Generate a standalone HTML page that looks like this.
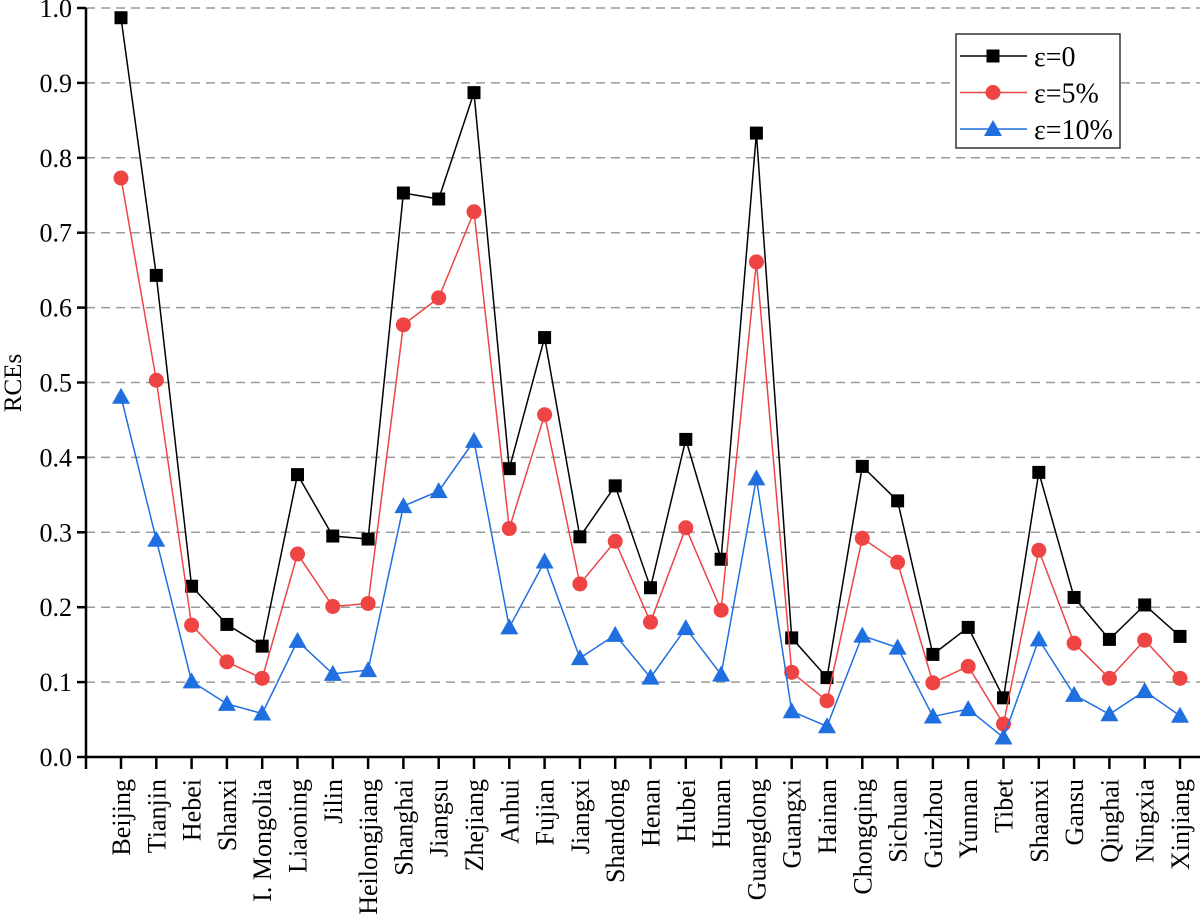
<!DOCTYPE html>
<html><head><meta charset="utf-8"><style>body{margin:0;background:#fff}svg{display:block;font-family:"Liberation Serif","Times New Roman",serif}</style></head>
<body>
<svg id="c" width="1200" height="915"></svg>
<script>
const categories=["Beijing","Tianjin","Hebei","Shanxi","I. Mongolia","Liaoning","Jilin","Heilongjiang","Shanghai","Jiangsu","Zhejiang","Anhui","Fujian","Jiangxi","Shandong","Henan","Hubei","Hunan","Guangdong","Guangxi","Hainan","Chongqing","Sichuan","Guizhou","Yunnan","Tibet","Shaanxi","Gansu","Qinghai","Ningxia","Xinjiang"];
const eps0=[0.987,0.643,0.228,0.177,0.148,0.377,0.295,0.291,0.753,0.745,0.887,0.385,0.560,0.294,0.362,0.226,0.424,0.264,0.833,0.159,0.106,0.388,0.342,0.137,0.173,0.079,0.380,0.213,0.157,0.203,0.161];
const eps5=[0.773,0.503,0.176,0.127,0.105,0.271,0.201,0.205,0.577,0.613,0.728,0.305,0.457,0.231,0.288,0.180,0.306,0.196,0.661,0.113,0.075,0.292,0.260,0.099,0.121,0.044,0.276,0.152,0.105,0.156,0.105];
const eps10=[0.481,0.290,0.101,0.071,0.058,0.155,0.111,0.116,0.335,0.355,0.422,0.173,0.261,0.132,0.163,0.106,0.172,0.110,0.372,0.061,0.041,0.162,0.146,0.054,0.064,0.026,0.157,0.083,0.057,0.088,0.055];
const yTicks=[0,0.1,0.2,0.3,0.4,0.5,0.6,0.7,0.8,0.9,1.0];
const NS="http://www.w3.org/2000/svg",svg=document.getElementById('c');
const X0=86,Y0=757,Y1=8;
const x=i=>121+i*35.3, y=v=>Y0-(Y0-Y1)*v;
function el(t,a,p){const e=document.createElementNS(NS,t);for(const k in a)e.setAttribute(k,a[k]);(p||svg).appendChild(e);return e;}
yTicks.forEach(v=>{
 if(v>0){const g=el('line',{x1:X0,x2:1200,y1:y(v),y2:y(v),stroke:'#999','stroke-width':1.5,'stroke-dasharray':'9,6'});
 
 }
 const t=el('line',{x1:X0-9,x2:X0,y1:y(v),y2:y(v),stroke:'#000','stroke-width':2.5});
 
 
 const l=el('text',{x:X0-14,y:y(v)+9,'text-anchor':'end','font-size':26});l.textContent=v.toFixed(1);
 
 
});
const ax=el('path',{d:`M${X0},${Y1} V${Y0} H1200`,fill:'none',stroke:'#000','stroke-width':2.5});


const yt=el('text',{transform:`translate(21,383) rotate(-90)`,'text-anchor':'middle','font-size':25});yt.textContent='RCEs';


el('line',{x1:X0,x2:X0,y1:Y0,y2:Y0+12,stroke:'#000','stroke-width':2.5});
categories.forEach((c,i)=>{
 const t=el('line',{x1:x(i),x2:x(i),y1:Y0,y2:Y0+12,stroke:'#000','stroke-width':2.5});
 
 
 const l=el('text',{transform:`translate(${x(i)+9},779) rotate(-90)`,'text-anchor':'end','font-size':26});l.textContent=c;
 
 
});
function marker(kind,cx,cy,col,p){
 if(kind==='sq')return el('rect',{x:cx-6.5,y:cy-6.5,width:13,height:13,fill:col},p);
 if(kind==='ci')return el('circle',{cx:cx,cy:cy,r:7.5,fill:col},p);
 return el('path',{d:`M${cx},${cy-9} L${cx+9},${cy+7} L${cx-9},${cy+7}Z`,fill:col},p);
}
[[eps0,'#000','sq','eps0'],[eps5,'#ee4444','ci','eps5'],[eps10,'#1f6fe0','tr','eps10']].forEach(([d,col,k,n])=>{
 const g=el('g',{});
 
 
 const pl=el('polyline',{points:d.map((v,i)=>x(i)+','+y(v)).join(' '),fill:'none',stroke:col,'stroke-width':1.5},g);
 
 
 d.forEach((v,i)=>{const m=marker(k,x(i),y(v),col,g);
  
  });
});
const lg=el('g',{});


el('rect',{x:956,y:34,width:164,height:114,fill:'#fff',stroke:'#333','stroke-width':1.5},lg);
[['ε=0','#000','sq'],['ε=5%','#ee4444','ci'],['ε=10%','#1f6fe0','tr']].forEach(([t,col,k],j)=>{
 const cy=56+j*36.5;
 const e=el('g',{},lg);
 
 
 el('line',{x1:960,x2:1027,y1:cy,y2:cy,stroke:col,'stroke-width':1.5},e);
 marker(k,993,cy,col,e);
 const tx=el('text',{x:1034,y:cy+10,'font-size':28},e);tx.textContent=t;
});
</script>
</body></html>
